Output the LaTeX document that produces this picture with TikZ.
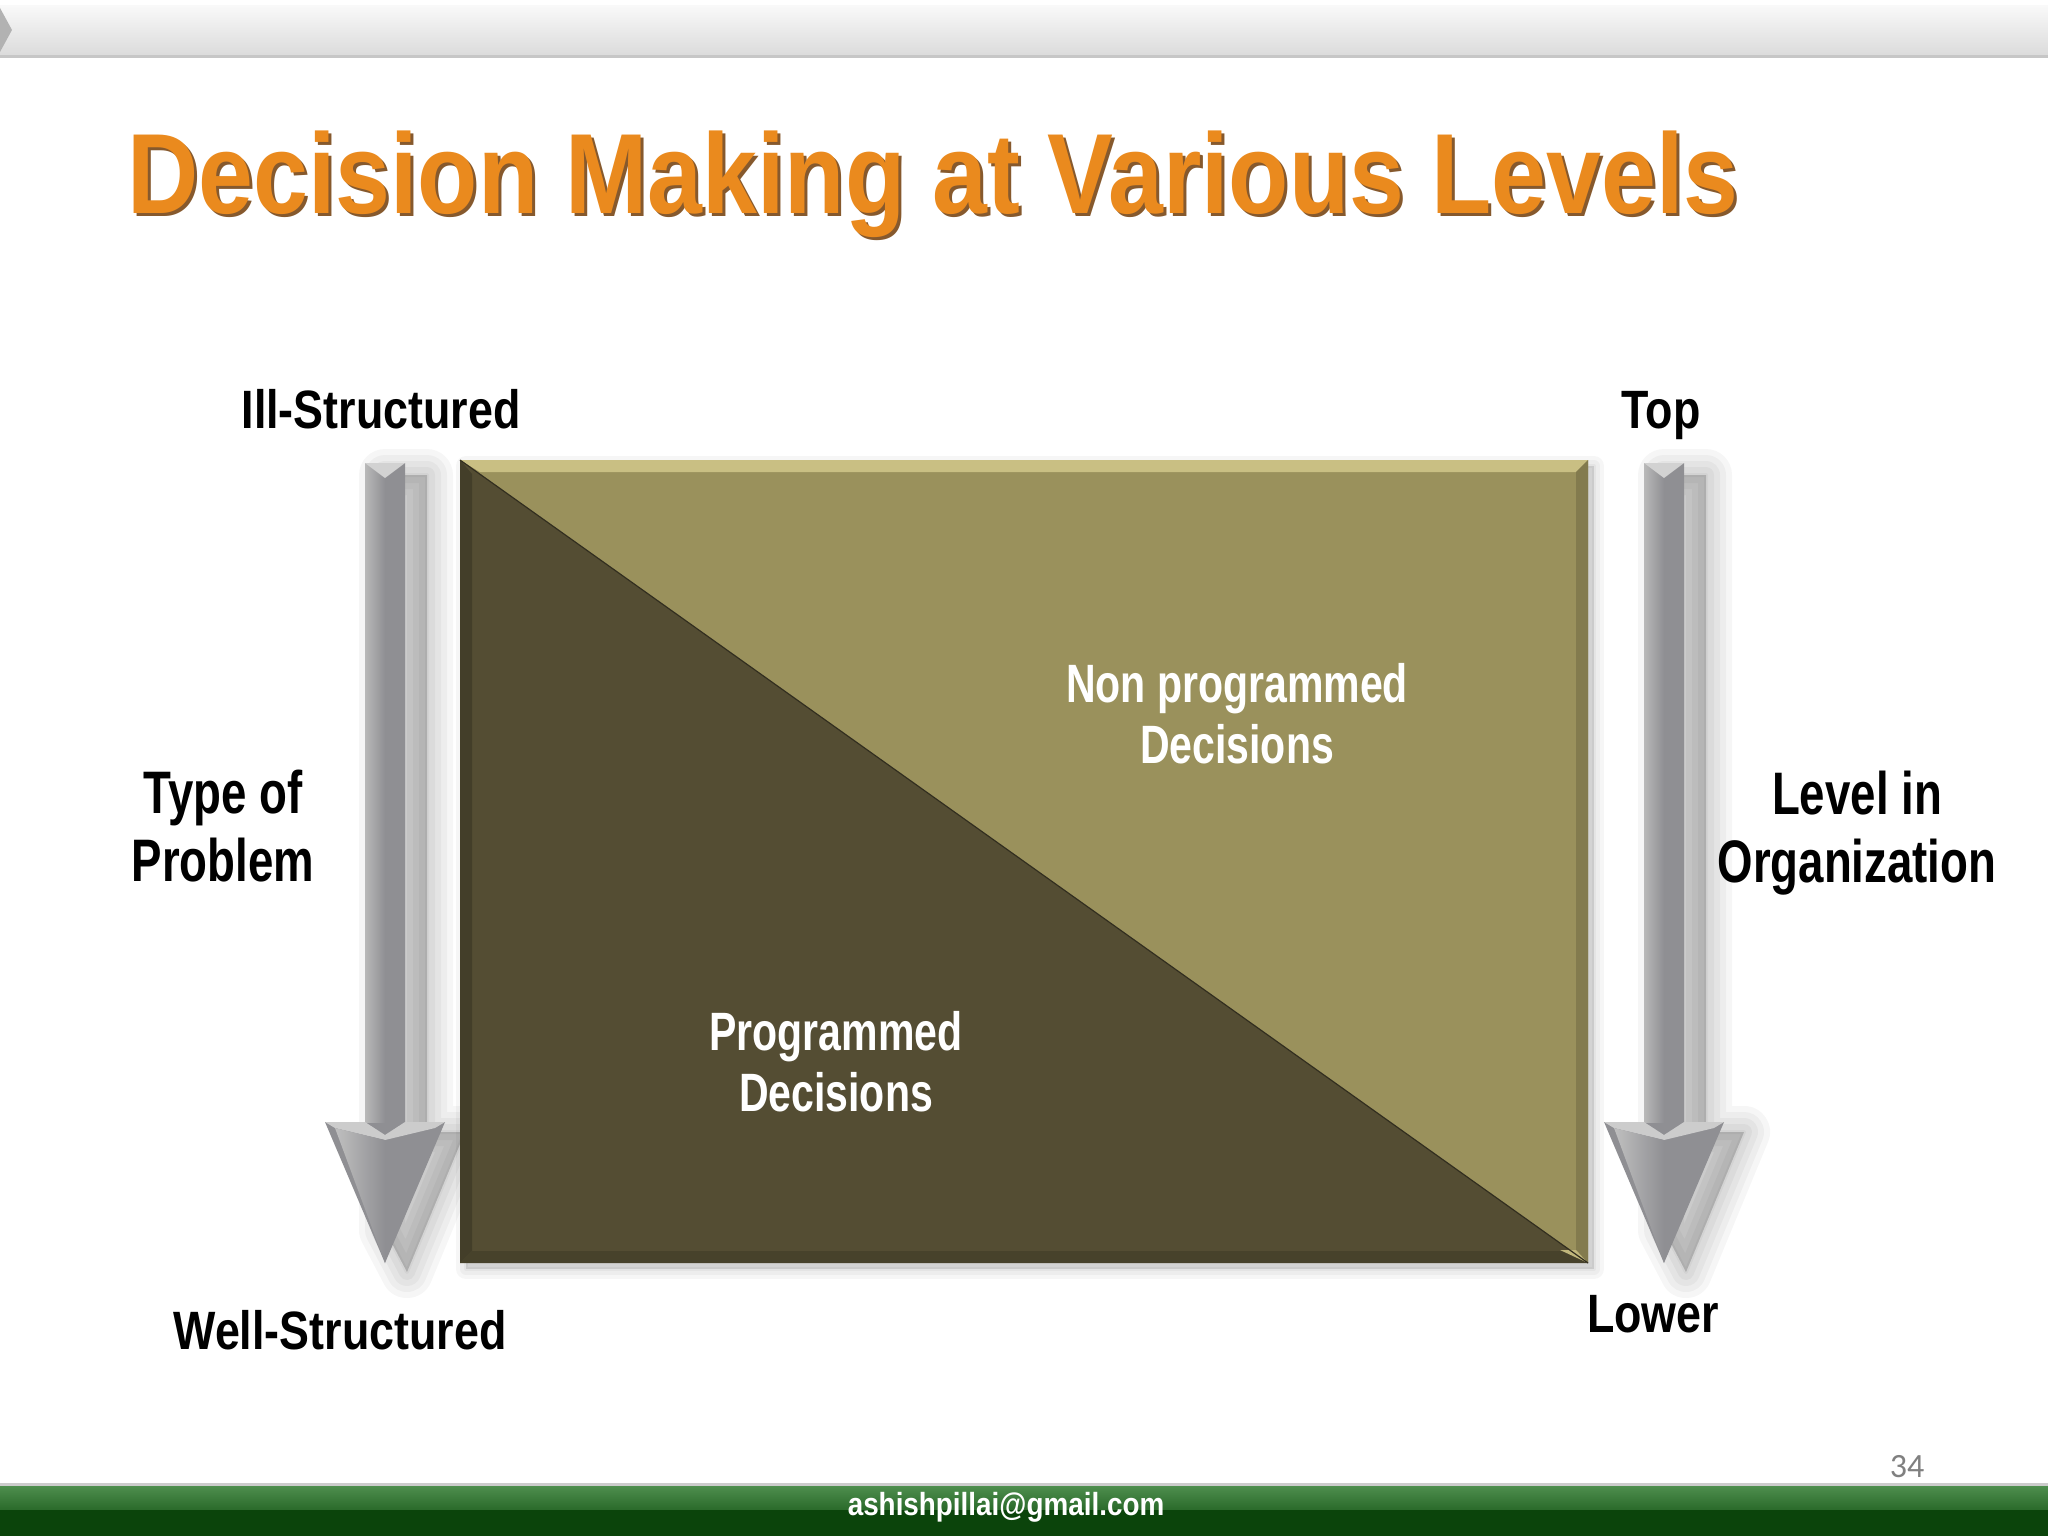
\documentclass[tikz,border=0pt]{standalone}
\usepackage{fontspec}
\setmainfont{Liberation Sans}
\newfontfamily\slimfont[FakeStretch=0.76]{Liberation Sans}
\newfontfamily\capfont[FakeStretch=0.83]{Liberation Sans}
\newfontfamily\titlefont[FakeStretch=0.865]{Liberation Sans}
\newfontfamily\mailfont[FakeStretch=0.87]{Liberation Sans}
\newfontfamily\pagefont{Carlito}
\definecolor{olivedark}{HTML}{544D33}
\definecolor{olivelight}{HTML}{9A915C}
\definecolor{olivebevel}{HTML}{C9BF83}
\definecolor{titleorange}{HTML}{EA8A1E}
\definecolor{arrowgray}{HTML}{8F8F93}
\definecolor{footgreen}{HTML}{0B440B}
\definecolor{footlight}{HTML}{4F8F4F}
\definecolor{footmid}{HTML}{2A6A2A}
\tikzset{
  sidelabel/.style={font=\capfont\bfseries\fontsize{27}{32}\selectfont, inner sep=0pt},
  axislabel/.style={font=\slimfont\bfseries\fontsize{30}{34}\selectfont, align=center, inner sep=0pt},
  zonelabel/.style={font=\slimfont\bfseries\fontsize{27}{30.5}\selectfont, text=white, align=center, inner sep=0pt},
  softshade/.style={draw=black, fill=black, line join=round, opacity=0.035, line width=#1}
}
\begin{document}
\begin{tikzpicture}[x=0.5pt,y=-0.5pt]
  \useasboundingbox[fill=white] (0,0) rectangle (2048,1536);
  % top banner
  \shade[top color=gray!5, bottom color=gray!28] (0,6) rectangle (2048,55);
  \fill[gray!45] (0,55) rectangle (2048,58);
  \fill[gray!60] (0,8) -- (12,30) -- (0,52) -- cycle;
  % title
  \node[font=\titlefont\bfseries\fontsize{57}{60}\selectfont, text=brown!70!black, anchor=base] at (936,216) {Decision Making at Various Levels};
  \node (title) [font=\titlefont\bfseries\fontsize{57}{60}\selectfont, text=titleorange, anchor=base] at (933,213) {Decision Making at Various Levels};
  % soft shadows behind arrows and square
  \foreach \ax in {385,1664} {
    \foreach \w in {2,8,14,20,26} {
      \path[softshade=\w pt] (\ax,475) -- (\ax+42,475) -- (\ax+42,1132) -- (\ax+80,1132) -- (\ax+22,1272) -- (\ax,1230) -- cycle;
    }
  }
  \foreach \w in {2,6,10} {
    \path[softshade=\w pt] (466,466) rectangle (1594,1269);
  }
  % the two arrows
  \foreach \ax in {385,1664} {
    \fill[arrowgray] (\ax-20,463) -- (\ax+20,463) -- (\ax+20,1122) -- (\ax+60,1122) -- (\ax,1263) -- (\ax-60,1122) -- (\ax-20,1122) -- cycle;
    \shade[left color=gray!55, right color=arrowgray] (\ax-20,463) rectangle (\ax,1122);
    \fill[gray!35] (\ax-20,463) -- (\ax,478) -- (\ax+20,463) -- cycle;
    \fill[gray!40] (\ax-60,1122) -- (\ax-20,1122) -- (\ax,1135) -- (\ax+20,1122) -- (\ax+60,1122) -- (\ax+50,1128) -- (\ax,1140) -- (\ax-50,1128) -- cycle;
    \shade[left color=gray!50, right color=arrowgray] (\ax-50,1128) -- (\ax,1140) -- (\ax,1263) -- cycle;
  }
  % the square of decisions
  \fill[olivedark] (460,460) rectangle (1588,1263);
  \fill[olivelight] (460,460) -- (1588,460) -- (1588,1263) -- cycle;
  \fill[olivebevel] (460,460) -- (1588,460) -- (1576,472) -- (480,472) -- cycle;
  \fill[olivelight!85!black] (1588,460) -- (1588,1263) -- (1576,1250) -- (1576,472) -- cycle;
  \fill[olivedark!80!black] (460,460) -- (472,474) -- (472,1251) -- (460,1263) -- cycle;
  \fill[olivedark!85!black] (460,1263) -- (1588,1263) -- (1576,1251) -- (472,1251) -- cycle;
  \fill[olivebevel!80!olivelight] (1588,1263) -- (1560,1250) -- (1576,1250) -- cycle;
  \draw[olivedark!60!black, line width=0.6pt] (460,460) -- (1588,1263);
  \node (nonprog) [zonelabel] at (1237,714) {Non programmed\\Decisions};
  \node (prog) [zonelabel] at (836,1062) {Programmed\\Decisions};
  % axis labels
  \node (ill) [sidelabel, anchor=base] at (381,428) {Ill-Structured};
  \node (well) [sidelabel, anchor=base] at (340,1349) {Well-Structured};
  \node (top) [sidelabel, anchor=base] at (1661,428) {Top};
  \node (lower) [sidelabel, anchor=base] at (1653,1332) {Lower};
  \node (problem) [axislabel] at (223,826) {Type of\\Problem};
  \node (level) [axislabel] at (1857,833) {Level in\\Organization};
  % footer
  \node (page) [font=\pagefont\fontsize{17}{20}\selectfont, text=gray, inner sep=0pt] at (1907,1467) {34};
  \shade[top color=footlight, bottom color=footmid] (0,1485) rectangle (2048,1510);
  \fill[footgreen] (0,1510) rectangle (2048,1536);
  \fill[gray!40] (0,1483) rectangle (2048,1486);
  \node (mail) [font=\mailfont\bfseries\fontsize{16}{18}\selectfont, text=white, inner sep=0pt] at (1006,1507) {ashishpillai@gmail.com};
\end{tikzpicture}
\end{document}
